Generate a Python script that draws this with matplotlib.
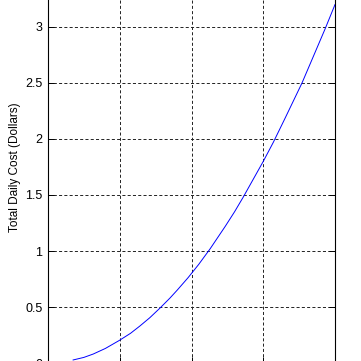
import matplotlib
matplotlib.use("Agg")
import matplotlib.pyplot as plt

# values
x_vals = [0.35, 0.50, 0.63, 0.80, 0.99, 1.15, 1.28, 1.42, 1.56, 1.70, 1.80, 1.95, 2.10,
          2.26, 2.47, 2.60, 2.72, 2.86, 3.00, 3.14, 3.30, 3.54, 3.70, 3.86, 4.00]
cost = [0.027, 0.05, 0.08, 0.13, 0.20, 0.265, 0.33, 0.405, 0.49, 0.58, 0.65, 0.76, 0.88,
        1.02, 1.22, 1.35, 1.48, 1.64, 1.80, 1.97, 2.18, 2.50, 2.74, 2.98, 3.20]
y_ticks = [0, 0.5, 1, 1.5, 2, 2.5, 3]
y_labels = ['0', '0.5', '1', '1.5', '2', '2.5', '3']
x_ticks = [0, 1, 2, 3, 4]

plt.rcParams['font.family'] = ['Liberation Sans', 'DejaVu Sans']
plt.rcParams['lines.scale_dashes'] = False

fig = plt.figure(figsize=(3.61, 3.61), dpi=100)

# the axes runs past the top and bottom edge (cropped MATLAB figure)
left = 48 / 361
right = 335 / 361
top_px = -29
bottom_px = 363
ax = fig.add_axes([left, (361 - bottom_px) / 361, right - left, (bottom_px - top_px) / 361])

ax.plot(x_vals, cost, color=(0, 0, 1), linewidth=0.7, solid_joinstyle='round')

ax.set_xlim(0, 4)
ax.set_ylim(0, 3.5)
ax.set_xticks(x_ticks)
ax.set_yticks(y_ticks)
ax.set_yticklabels(y_labels)

ax.grid(True, color='#222222', linewidth=0.7, linestyle=(0, (2.2, 1.6)))
ax.tick_params(direction='in', length=4, width=0.7, labelsize=9, pad=4,
               right=True, top=True, colors='black', labelbottom=False)
for s in ax.spines.values():
    s.set_linewidth(0.8)

ax.set_ylabel('Total Daily Cost (Dollars)', fontsize=8.5, labelpad=3)

fig.savefig('out.png', dpi=100)
